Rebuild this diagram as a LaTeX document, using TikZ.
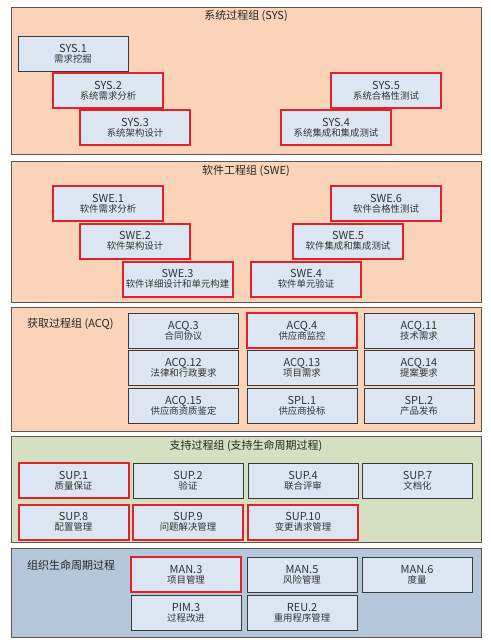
\documentclass[tikz,border=0pt]{standalone}
\usepackage{fontspec}
\setmainfont{Noto Sans CJK SC}
\usepackage{xcolor}
\usepackage{tikz}
\usetikzlibrary{positioning}

\definecolor{peach}{HTML}{FBD3B8}
\definecolor{supgreen}{HTML}{D5DFC1}
\definecolor{mangray}{HTML}{B5C7DA}
\definecolor{boxblue}{HTML}{DCE6F3}
\definecolor{boxline}{HTML}{3A3A3A}
\definecolor{grpline}{HTML}{5E5550}
\definecolor{hired}{HTML}{E2222B}

\tikzset{
	grp/.style={shape=rectangle, draw=grpline, line width=0.9pt, minimum width=470pt},
	grptitle/.style={font=\fontsize{11}{13}\selectfont, text=black!85, inner sep=0pt},
	proc/.style={shape=rectangle, draw=boxline, line width=0.9pt, fill=boxblue, align=center,
		minimum width=110pt, minimum height=35pt, inner sep=1pt,
		font=\fontsize{11}{10}\selectfont, text=black!80},
	procred/.style={proc, draw=hired, line width=2pt}
}
\newcommand{\pname}[1]{{\fontsize{9.4}{10}\selectfont #1}}

\begin{document}
\begin{tikzpicture}[x=1pt, y=-1pt]
			\useasboundingbox (0,0) rectangle (490,644);
			% Process groups:
			\node[grp, fill=peach, minimum height=147pt] (SYS) at (246, 80.5){};
			\node[grp, fill=peach, minimum height=141pt] (SWE) at (246, 231.5){};
			\node[grp, fill=peach, minimum height=124pt] (ACQ) at (246, 369){};
			\node[grp, fill=supgreen, minimum height=106pt] (SUP) at (246, 489.5){};
			\node[grp, fill=mangray, minimum height=89pt] (MAN) at (246, 592.5){};
			\node[grptitle] (SYStitle) at (246, 16){系统过程组 (SYS)};
			\node[grptitle] (SWEtitle) at (246, 171){软件工程组 (SWE)};
			\node[grptitle, anchor=west] (ACQtitle) at (27, 324){获取过程组 (ACQ)};
			\node[grptitle] (SUPtitle) at (246, 446){支持过程组 (支持生命周期过程)};
			\node[grptitle, anchor=west] (MANtitle) at (27, 565){组织生命周期过程};
			% SYS:
			\node[proc] (SYS1) at (73, 53.5){SYS.1\\\pname{需求挖掘}};
			\node[procred] (SYS2) at (108, 91){SYS.2\\\pname{系统需求分析}};
			\node[procred] (SYS3) at (135, 128){SYS.3\\\pname{系统架构设计}};
			\node[procred] (SYS5) at (386, 91){SYS.5\\\pname{系统合格性测试}};
			\node[procred] (SYS4) at (336, 128){SYS.4\\\pname{系统集成和集成测试}};
			% SWE:
			\node[procred] (SWE1) at (108, 203.5){SWE.1\\\pname{软件需求分析}};
			\node[procred] (SWE2) at (135, 241){SWE.2\\\pname{软件架构设计}};
			\node[procred] (SWE3) at (177.5, 279){SWE.3\\\pname{软件详细设计和单元构建}};
			\node[procred] (SWE6) at (386, 203.5){SWE.6\\\pname{软件合格性测试}};
			\node[procred] (SWE5) at (348, 241){SWE.5\\\pname{软件集成和集成测试}};
			\node[procred] (SWE4) at (306, 279){SWE.4\\\pname{软件单元验证}};
			% ACQ:
			\node[proc] (ACQ3) at (183.5, 330.5){ACQ.3\\\pname{合同协议}};
			\node[procred] (ACQ4) at (302, 330.5){ACQ.4\\\pname{供应商监控}};
			\node[proc] (ACQ11) at (419, 330.5){ACQ.11\\\pname{技术需求}};
			\node[proc] (ACQ12) at (183.5, 367.5){ACQ.12\\\pname{法律和行政要求}};
			\node[proc] (ACQ13) at (302, 367.5){ACQ.13\\\pname{项目需求}};
			\node[proc] (ACQ14) at (419, 367.5){ACQ.14\\\pname{提案要求}};
			\node[proc] (ACQ15) at (183.5, 405.5){ACQ.15\\\pname{供应商资质鉴定}};
			\node[proc] (SPL1) at (302, 405.5){SPL.1\\\pname{供应商投标}};
			\node[proc] (SPL2) at (419, 405.5){SPL.2\\\pname{产品发布}};
			% SUP:
			\node[procred] (SUP1) at (73.5, 480.5){SUP.1\\\pname{质量保证}};
			\node[proc] (SUP2) at (188, 480.5){SUP.2\\\pname{验证}};
			\node[proc] (SUP4) at (303, 480.5){SUP.4\\\pname{联合评审}};
			\node[proc] (SUP7) at (417.5, 480.5){SUP.7\\\pname{文档化}};
			\node[procred] (SUP8) at (73.5, 522){SUP.8\\\pname{配置管理}};
			\node[procred] (SUP9) at (188, 522){SUP.9\\\pname{问题解决管理}};
			\node[procred] (SUP10) at (303, 522){SUP.10\\\pname{变更请求管理}};
			% MAN:
			\node[procred] (MAN3) at (186, 574.5){MAN.3\\\pname{项目管理}};
			\node[proc] (MAN5) at (302, 574.5){MAN.5\\\pname{风险管理}};
			\node[proc] (MAN6) at (417, 574.5){MAN.6\\\pname{度量}};
			\node[proc] (PIM3) at (186, 612.5){PIM.3\\\pname{过程改进}};
			\node[proc] (REU2) at (302, 612.5){REU.2\\\pname{重用程序管理}};
		\end{tikzpicture}
\end{document}
